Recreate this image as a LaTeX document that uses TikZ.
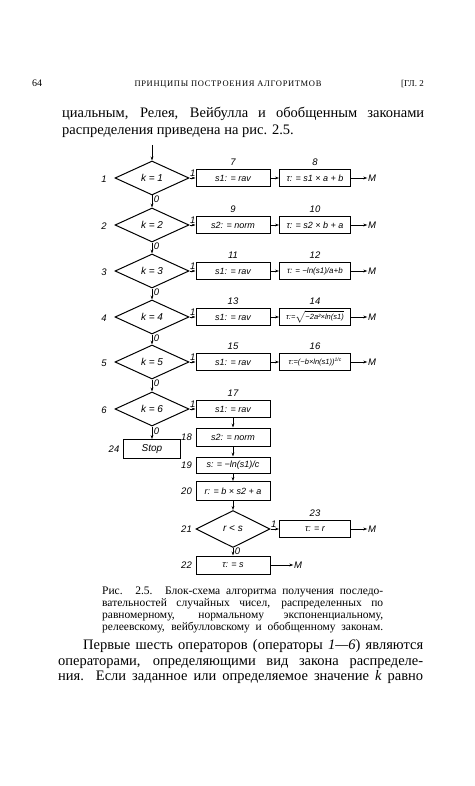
\documentclass[tikz,border=0pt]{standalone}
\usepackage{fontspec}
\setmainfont{Liberation Serif}
\newfontfamily\drawfont{Liberation Sans}
\usetikzlibrary{shapes.geometric,arrows.meta}
\begin{document}
\begin{tikzpicture}[x=1pt,y=-1pt,
  blk/.style={draw, line width=1pt, rectangle, minimum height=17pt, inner sep=1pt, font=\fontsize{9}{10}\selectfont\drawfont\itshape},
  boxa/.style={blk, minimum width=74pt},
  boxb/.style={blk, minimum width=71pt},
  dia/.style={draw, line width=1pt, diamond, aspect=2, minimum width=74pt, minimum height=34pt, inner sep=0pt, font=\fontsize{10}{11}\selectfont\drawfont\itshape},
  lbl/.style={font=\fontsize{9.5}{10}\selectfont\drawfont\itshape, inner sep=0.5pt},
  arr/.style={-{Stealth[length=4pt,width=2.8pt]}, line width=0.8pt},
  body/.style={anchor=base west, inner sep=0pt, font=\fontsize{14.5}{17}\selectfont},
  capt/.style={anchor=base west, inner sep=0pt, font=\fontsize{11.5}{12}\selectfont},
]
\useasboundingbox (0,0) rectangle (474,786);

% header and text above
\node[anchor=base west, inner sep=0pt, font=\fontsize{10}{12}\selectfont] (pg) at (32,87) {64};
\node[anchor=base, inner sep=0pt, font=\fontsize{8.5}{10}\selectfont\addfontfeature{LetterSpace=8}] (hd) at (228,87) {ПРИНЦИПЫ ПОСТРОЕНИЯ АЛГОРИТМОВ};
\node[anchor=base east, inner sep=0pt, font=\fontsize{9}{10}\selectfont] (gl) at (424,87) {[ГЛ. 2};
\node[body] (t1) at (62,118) {\makebox[362pt][s]{циальным, Релея, Вейбулла и обобщенным законами}};
\node[body] (t2) at (62,135) {распределения приведена на рис. 2.5.};

% entry
\coordinate (in) at (152,145);

% diamonds 1-6
\node[dia] (d1) at (152,178) {k = 1};
\node[dia] (d2) at (152,225) {k = 2};
\node[dia] (d3) at (152,271) {k = 3};
\node[dia] (d4) at (152,317) {k = 4};
\node[dia] (d5) at (152,362) {k = 5};
\node[dia] (d6) at (152,409) {k = 6};

\foreach \n/\y in {1/179,2/226,3/272,4/318,5/363,6/410}
  \node[lbl] (nl\n) at (104,\y) {\n};

% row boxes
\node[boxa] (b7)  at (233,178) {s1: = rav};
\node[boxb] (b8)  at (315,178) {τ: = s1 × a + b};
\node[boxa] (b9)  at (233,225) {s2: = norm};
\node[boxb] (b10) at (315,225) {τ: = s2 × b + a};
\node[boxa] (b11) at (233,271) {s1: = rav};
\node[boxb, font=\fontsize{8}{9}\selectfont\drawfont\itshape] (b12) at (315,271) {τ: = −ln(s1)/a+b};
\node[boxa] (b13) at (233,317) {s1: = rav};
\node[boxb, font=\fontsize{7.5}{8}\selectfont\drawfont\itshape] (b14) at (315,317) {τ:=$\sqrt{\mbox{−2a²×ln(s1)}}$};
\node[boxa] (b15) at (233,362) {s1: = rav};
\node[boxb, font=\fontsize{7.5}{8}\selectfont\drawfont\itshape] (b16) at (315,362) {τ:=(−b×ln(s1))\raisebox{3pt}{\fontsize{5}{5}\selectfont 1/c}};
\node[boxa] (b17) at (233,409) {s1: = rav};
\node[boxa, minimum height=18pt] (b18) at (233,437) {s2: = norm};
\node[boxa, minimum height=16pt] (b19) at (233,465) {s: = −ln(s1)/c};
\node[boxa, minimum height=19pt] (b20) at (233,491) {r: = b × s2 + a};
\node[dia, minimum height=37pt] (d21) at (233,529) {r < s};
\node[boxb] (b23) at (315,529) {τ: = r};
\node[boxa, minimum height=18pt] (b22) at (233,565) {τ: = s};
\node[blk, minimum width=57pt, minimum height=19pt, font=\fontsize{10}{11}\selectfont\drawfont\itshape] (b24) at (152,449) {Stop};

% M outputs
\node[lbl] (m8)  at (372,178) {M};
\node[lbl] (m10) at (372,225) {M};
\node[lbl] (m12) at (372,271) {M};
\node[lbl] (m14) at (372,317) {M};
\node[lbl] (m16) at (372,362) {M};
\node[lbl] (m23) at (372,529) {M};
\node[lbl] (m22) at (298,565) {M};

% number labels above boxes
\foreach \b in {7,8,9,10,11,12,13,14,15,16,17,23}
  \node[lbl, anchor=south] at ([yshift=3pt]b\b.north) {\b};
% number labels left of boxes
\foreach \b in {18,19,20,22,24}
  \node[lbl, anchor=east] at ([xshift=-3pt]b\b.west) {\b};
\node[lbl, anchor=east] at ([xshift=-3pt]d21.west) {21};

% connectors
\draw[arr] (in) -- (d1.north);
\foreach \a/\b in {1/2,2/3,3/4,4/5,5/6}
  \draw[arr] (d\a.south) -- (d\b.north) node[lbl, pos=0.35, right=1pt] {0};
\draw[arr] (d6.south) -- (b24.north) node[lbl, pos=0.4, right=1pt] {0};
\foreach \d/\a/\b in {1/7/8,2/9/10,3/11/12,4/13/14,5/15/16}{
  \draw[arr] (d\d.east) -- (b\a.west);
  \node[lbl, anchor=south west] at ([yshift=1pt]d\d.east) {1};
  \draw[arr] (b\a.east) -- (b\b.west);
  \draw[arr] (b\b.east) -- (m\b.west);
}
\draw[arr] (d6.east) -- (b17.west);
\node[lbl, anchor=south west] at ([yshift=1pt]d6.east) {1};
\draw[arr] (b17.south) -- (b18.north);
\draw[arr] (b18.south) -- (b19.north);
\draw[arr] (b19.south) -- (b20.north);
\draw[arr] (b20.south) -- (d21.north);
\draw[arr] (d21.east) -- (b23.west);
\node[lbl, anchor=south west] at ([yshift=1pt]d21.east) {1};
\draw[arr] (b23.east) -- (m23.west);
\draw[arr] (d21.south) -- (b22.north) node[lbl, pos=0.4, right=1pt] {0};
\draw[arr] (b22.east) -- (m22.west);

% caption
\node[capt] (c1) at (102,594) {\makebox[281pt][s]{Рис. 2.5. Блок-схема алгоритма получения последо-}};
\node[capt] (c2) at (102,606) {\makebox[281pt][s]{вательностей случайных чисел, распределенных по}};
\node[capt] (c3) at (102,618) {\makebox[281pt][s]{равномерному, нормальному экспоненциальному,}};
\node[capt] (c4) at (102,630) {\makebox[281pt][s]{релеевскому, вейбулловскому и обобщенному законам.}};

% body text below
\node[body] (p1) at (83,649) {\makebox[340pt][s]{Первые шесть операторов (операторы \textit{1—6}) являются}};
\node[body] (p2) at (58,665) {\makebox[365pt][s]{операторами, определяющими вид закона распределе-}};
\node[body] (p3) at (58,680) {\makebox[365pt][s]{ния. Если заданное или определяемое значение \textit{k} равно}};
\end{tikzpicture}
\end{document}
